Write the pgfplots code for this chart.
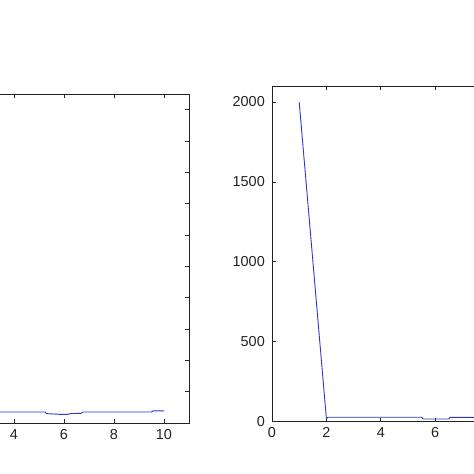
\documentclass[border=0pt]{standalone}
\usepackage{fontspec}
\setmainfont{Liberation Sans}
\usepackage{pgfplots}
\pgfplotsset{compat=1.18}
\definecolor{mline}{RGB}{45,55,200}
\definecolor{frame}{RGB}{35,35,35}

\pgfplotsset{
  mlab/.style={
    scale only axis,
    anchor=south west,
    tick align=inside,
    major tick length=4bp,
    axis line style={frame, line width=0.8bp},
    tick style={frame, line width=0.7bp},
    ticklabel style={font=\fontsize{14.5}{16}\selectfont, text=frame},
    /pgf/number format/assume math mode=true,
    /pgf/number format/1000 sep={},
    xticklabel style={inner sep=0pt, yshift=-6bp},
    yticklabel style={inner sep=0pt, xshift=-7bp},
  },
}

\begin{document}
\begin{tikzpicture}
\useasboundingbox (0,0) rectangle (474bp,474bp);
\clip (0,0) rectangle (474bp,474bp);

% left panel (cut off on the left)
\begin{axis}[
    mlab,
    at={(-86bp,51bp)},
    width=275bp, height=329bp,
    xmin=0, xmax=11, ymin=0, ymax=2100,
    xtick={0,2,...,10},
    ytick={0,200,...,2000},
]
\addplot[mline, line width=0.9bp] coordinates {
  (1,70) (2,70) (3,70) (4,70) (5,70) (5.25,70) (5.3,60)
  (5.85,55) (6.15,55) (6.25,60) (6.7,62) (6.75,70)
  (7,70) (8,70) (9,70) (9.5,70) (9.55,77) (10,77)
};
\end{axis}

% right panel (cut off on the right)
\begin{axis}[
    mlab,
    at={(272bp,52.3bp)},
    width=272bp, height=335.7bp,
    xmin=0, xmax=10, ymin=0, ymax=2100,
    xtick={0,2,...,10},
    ytick={0,500,...,2000},
]
\addplot[mline, line width=0.9bp] coordinates {
  (1,2000) (2,18) (2.05,28) (3,28) (4,28) (5,28) (5.5,28)
  (5.55,17) (6.5,17) (6.55,27) (7,27) (8,27) (9,27) (10,27)
};
\end{axis}
\end{tikzpicture}
\end{document}
